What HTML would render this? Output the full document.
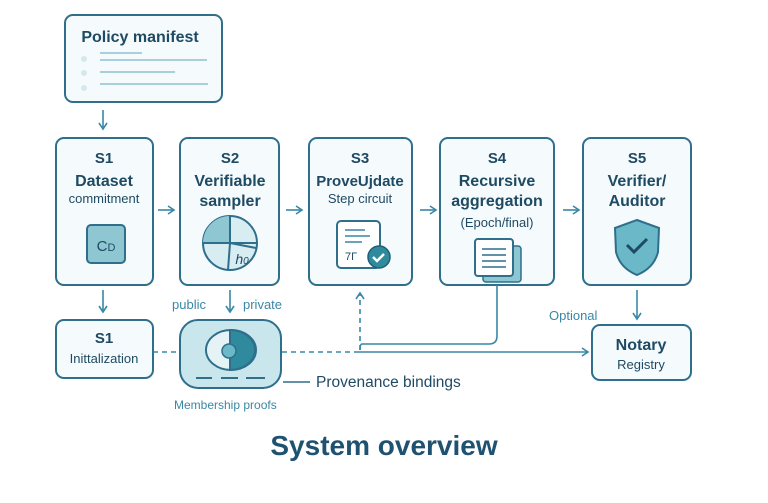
<!DOCTYPE html>
<html><head><meta charset="utf-8"><style>
html,body{margin:0;padding:0;background:#fff;}
svg{display:block;font-family:"Liberation Sans",sans-serif;}
</style></head><body>
<svg width="768" height="503" viewBox="0 0 768 503" xmlns="http://www.w3.org/2000/svg">
<defs>
<marker id="ah" markerWidth="10" markerHeight="10" refX="7" refY="5" orient="auto" markerUnits="userSpaceOnUse">
<path d="M1,1 L7,5 L1,9" fill="none" stroke="#3a87a6" stroke-width="1.6"/></marker>
</defs>
<g fill="#f5fafc" stroke="#2f6f8c" stroke-width="2">
<rect x="65" y="15" width="157" height="87" rx="8"/>
<rect x="56" y="138" width="97" height="147" rx="8"/>
<rect x="180" y="138" width="99" height="147" rx="8"/>
<rect x="309" y="138" width="103" height="147" rx="8"/>
<rect x="440" y="138" width="114" height="147" rx="8"/>
<rect x="583" y="138" width="108" height="147" rx="8"/>
<rect x="56" y="320" width="97" height="58" rx="8"/>
<rect x="592" y="325" width="99" height="55" rx="8"/>
<rect x="180" y="320" width="101" height="68" rx="18" fill="#c9e6ec"/>
</g>
<!-- policy lines -->
<g stroke="#a9cfdc" stroke-width="2">
<line x1="100" y1="53" x2="142" y2="53"/><line x1="100" y1="60" x2="207" y2="60"/>
<line x1="100" y1="72" x2="175" y2="72"/><line x1="100" y1="84" x2="208" y2="84"/>
</g>
<g fill="#d6e8ee"><circle cx="84" cy="59" r="3"/><circle cx="84" cy="73" r="3"/><circle cx="84" cy="88" r="3"/></g>
<g fill="#1f4a63" font-weight="bold" text-anchor="middle">
<text x="140" y="42" font-size="16">Policy manifest</text>
<text x="104" y="163" font-size="15">S1</text>
<text x="104" y="186" font-size="16">Dataset</text>
<text x="230" y="163" font-size="15">S2</text>
<text x="230" y="186" font-size="16">Verifiable</text>
<text x="230" y="206" font-size="16">sampler</text>
<text x="360" y="163" font-size="15">S3</text>
<text x="360" y="186" font-size="15">ProveUjdate</text>
<text x="497" y="163" font-size="15">S4</text>
<text x="497" y="186" font-size="16">Recursive</text>
<text x="497" y="206" font-size="16">aggregation</text>
<text x="637" y="163" font-size="15">S5</text>
<text x="637" y="186" font-size="16">Verifier/</text>
<text x="637" y="206" font-size="16">Auditor</text>
<text x="104" y="343" font-size="15">S1</text>
<text x="641" y="350" font-size="16">Notary</text>
</g>
<g fill="#1f4a63" text-anchor="middle" font-size="13">
<text x="104" y="203">commitment</text>
<text x="360" y="203">Step circuit</text>
<text x="497" y="227">(Epoch/final)</text>
<text x="104" y="363">Inittalization</text>
<text x="641" y="369">Registry</text>
</g>
<!-- icons -->
<rect x="87" y="225" width="38" height="38" rx="4" fill="#8ec6d2" stroke="#2f6f8c" stroke-width="2"/>
<text x="106" y="251" font-size="15" fill="#1f4a63" text-anchor="middle">C<tspan font-size="11">D</tspan></text>
<circle cx="230" cy="243" r="27" fill="#d8edf2" stroke="#2f6f8c" stroke-width="2"/>
<path d="M230,216 A27,27 0 0 0 203,243 L230,243 Z" fill="#8ec6d2"/>
<path d="M203,243 L257,243 M230,216 L230,243" stroke="#2f6f8c" stroke-width="2" fill="none"/>
<path d="M230,243 L228,270 M230,243 L256,248" stroke="#2f6f8c" stroke-width="2" fill="none"/>
<text x="242" y="264" font-size="14" font-style="italic" fill="#1f4a63" text-anchor="middle">h<tspan font-size="10">0</tspan></text>
<rect x="337" y="221" width="43" height="47" rx="4" fill="#fff" stroke="#2f6f8c" stroke-width="2"/>
<g stroke="#3a87a6" stroke-width="1.5"><line x1="345" y1="230" x2="365" y2="230"/><line x1="345" y1="236" x2="370" y2="236"/><line x1="345" y1="242" x2="362" y2="242"/></g>
<text x="345" y="260" font-size="11" fill="#1f4a63">7Γ</text>
<circle cx="379" cy="257" r="11" fill="#2f8a9e" stroke="#1f5f76" stroke-width="1.5"/>
<path d="M373,257 l4,4 l7,-7" stroke="#fff" stroke-width="2.5" fill="none"/>
<rect x="483" y="246" width="38" height="36" rx="3" fill="#8ec6d2" stroke="#2f6f8c" stroke-width="1.5"/>
<rect x="475" y="239" width="38" height="37" rx="3" fill="#fff" stroke="#2f6f8c" stroke-width="2"/>
<g stroke="#2f6f8c" stroke-width="1.5"><line x1="482" y1="249" x2="506" y2="249"/><line x1="482" y1="255" x2="506" y2="255"/><line x1="482" y1="261" x2="506" y2="261"/><line x1="482" y1="267" x2="506" y2="267"/></g>
<path d="M637,220 L659,228 L658,252 Q654,268 637,275 Q620,268 616,252 L615,228 Z" fill="#6bb8c8" stroke="#2f6f8c" stroke-width="2"/>
<path d="M627,245 l7,7 l13,-13" stroke="#1f4a63" stroke-width="3" fill="none"/>
<ellipse cx="231" cy="350" rx="25" ry="20" fill="#e6f3f6" stroke="#2f6f8c" stroke-width="2"/>
<path d="M230,330 A25,20 0 0 1 230,370 Z" fill="#2f8a9e" stroke="#2f6f8c" stroke-width="2"/>
<circle cx="229" cy="351" r="7" fill="#6bb8c8" stroke="#2f6f8c" stroke-width="1.5"/>
<g stroke="#2f6f8c" stroke-width="2"><line x1="196" y1="378" x2="212" y2="378"/><line x1="221" y1="378" x2="238" y2="378"/><line x1="246" y1="378" x2="265" y2="378"/></g>
<!-- connectors -->
<g stroke="#3a87a6" stroke-width="1.6" fill="none">
<line x1="103" y1="110" x2="103" y2="129" marker-end="url(#ah)"/>
<line x1="158" y1="210" x2="174" y2="210" marker-end="url(#ah)"/>
<line x1="286" y1="210" x2="302" y2="210" marker-end="url(#ah)"/>
<line x1="420" y1="210" x2="436" y2="210" marker-end="url(#ah)"/>
<line x1="563" y1="210" x2="579" y2="210" marker-end="url(#ah)"/>
<line x1="103" y1="290" x2="103" y2="312" marker-end="url(#ah)"/>
<line x1="230" y1="290" x2="230" y2="312" marker-end="url(#ah)"/>
<line x1="637" y1="290" x2="637" y2="319" marker-end="url(#ah)"/>
<line x1="153" y1="352" x2="180" y2="352" stroke-dasharray="5,4"/>
<line x1="282" y1="352" x2="358" y2="352" stroke-dasharray="5,4"/>
<line x1="360" y1="350" x2="360" y2="293" stroke-dasharray="5,4" marker-end="url(#ah)"/>
<path d="M497,285 L497,336 Q497,344 489,344 L362,344 Q360,344 360,350"/>
<line x1="358" y1="352" x2="588" y2="352" marker-end="url(#ah)"/>
<line x1="283" y1="382" x2="310" y2="382" stroke="#2f6f8c"/>
</g>
<g fill="#3a87a6" font-size="13">
<text x="172" y="309">public</text>
<text x="243" y="309">private</text>
<text x="549" y="320">Optional</text>
<text x="174" y="409" font-size="12">Membership proofs</text>
</g>
<text x="316" y="387" font-size="15.5" fill="#1f4a63">Provenance bindings</text>
<text x="384" y="455" font-size="28" font-weight="bold" fill="#1f5270" text-anchor="middle">System overview</text>
</svg>
</body></html>
